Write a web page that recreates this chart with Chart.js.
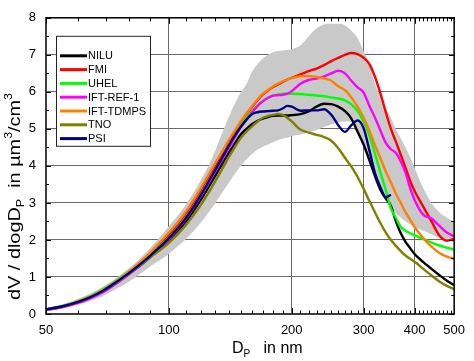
<!DOCTYPE html>
<html><head><meta charset="utf-8">
<script src="https://cdn.jsdelivr.net/npm/chart.js@4.4.1/dist/chart.umd.min.js"></script>
<style>html,body{margin:0;padding:0;background:#fff;}canvas{display:block;}</style>
</head><body>
<canvas id="c" width="474" height="361"></canvas>
<script>
// ---------- DATA ----------
const diameters = [50,55,60,65,70,75,80,85,90,95,100,105,110,115,120,125,130,135,140,145,150,155,160,165,170,175,180,185,190,195,200,210,220,230,240,250,260,270,280,290,300,310,320,330,340,350,360,370,380,390,400,420,440,460,480,500];

const NILU = [0.11,0.2,0.32,0.47,0.65,0.87,1.09,1.31,1.54,1.78,2.0,2.24,2.5,2.79,3.1,3.42,3.74,4.05,4.34,4.6,4.85,5.0,5.13,5.22,5.28,5.32,5.35,5.36,5.36,5.36,5.37,5.4,5.47,5.6,5.68,5.67,5.6,5.48,5.28,4.92,4.58,4.15,3.72,3.35,3.12,2.92,2.5,2.18,1.95,1.78,1.62,1.4,1.22,1.05,0.9,0.78];
const FMI = [0.12,0.21,0.33,0.49,0.68,0.9,1.13,1.38,1.63,1.9,2.15,2.42,2.71,3.03,3.37,3.71,4.03,4.34,4.64,4.92,5.18,5.4,5.6,5.78,5.93,6.04,6.13,6.2,6.27,6.33,6.38,6.47,6.56,6.63,6.72,6.83,6.92,7.0,7.05,7.02,6.92,6.75,6.4,5.95,5.45,5.0,4.65,4.3,3.95,3.6,3.32,2.9,2.5,2.12,1.98,2.03];
const UHEL = [0.12,0.22,0.35,0.51,0.71,0.93,1.16,1.38,1.6,1.83,2.06,2.32,2.6,2.9,3.22,3.55,3.88,4.2,4.51,4.8,5.08,5.3,5.48,5.63,5.75,5.84,5.9,5.93,5.95,5.95,5.95,5.94,5.92,5.9,5.88,5.85,5.82,5.77,5.66,5.48,5.2,4.82,4.32,3.82,3.35,2.85,2.6,2.35,2.25,2.18,2.13,2.02,1.93,1.85,1.79,1.74];
const IFT_REF_1 = [0.11,0.19,0.3,0.45,0.63,0.85,1.08,1.31,1.55,1.8,2.03,2.29,2.57,2.88,3.2,3.53,3.86,4.17,4.47,4.76,5.05,5.25,5.45,5.62,5.75,5.84,5.9,5.91,5.92,5.95,6.02,6.22,6.32,6.36,6.42,6.5,6.57,6.5,6.3,6.12,5.98,5.62,5.3,4.95,4.62,4.45,4.35,4.12,3.82,3.4,3.08,2.68,2.58,2.38,2.2,2.1];
const IFT_TDMPS = [0.12,0.21,0.34,0.5,0.69,0.91,1.15,1.4,1.66,1.93,2.2,2.47,2.76,3.08,3.42,3.76,4.08,4.38,4.68,4.95,5.2,5.42,5.62,5.8,5.95,6.05,6.15,6.22,6.28,6.33,6.37,6.42,6.43,6.4,6.36,6.3,6.15,6.05,5.85,5.6,5.3,4.95,4.55,4.2,3.85,3.55,3.25,3.0,2.75,2.55,2.35,2.05,1.82,1.65,1.55,1.49];
const TNO = [0.12,0.21,0.33,0.48,0.67,0.88,1.1,1.32,1.53,1.72,1.92,2.15,2.4,2.67,2.96,3.27,3.59,3.91,4.22,4.5,4.75,4.93,5.07,5.2,5.3,5.35,5.38,5.4,5.38,5.3,5.2,4.98,4.9,4.84,4.78,4.68,4.48,4.22,3.98,3.7,3.38,3.05,2.74,2.45,2.2,2.0,1.84,1.7,1.58,1.49,1.41,1.22,1.04,0.88,0.76,0.67];
const PSI = [0.12,0.21,0.33,0.48,0.67,0.89,1.11,1.34,1.57,1.81,2.05,2.31,2.59,2.9,3.23,3.57,3.9,4.22,4.53,4.81,5.05,5.25,5.4,5.45,5.47,5.48,5.49,5.5,5.55,5.62,5.6,5.49,5.5,5.5,5.53,5.38,5.1,4.92,5.1,5.23,5.02,4.42,3.8,3.42,3.15,3.22,null,null,null,null,null,null,null,null,null,null];
const bandUpper = [0.16,0.27,0.41,0.58,0.78,1.0,1.24,1.5,1.78,2.07,2.38,2.65,2.95,3.28,3.63,4.0,4.42,4.88,5.3,5.68,5.98,6.22,6.55,6.75,6.9,7.0,7.07,7.1,7.12,7.13,7.15,7.25,7.5,7.72,7.82,7.84,7.84,7.8,7.65,7.45,7.1,6.75,6.2,5.9,5.55,5.3,5.0,4.75,4.5,4.25,3.95,3.4,3.0,2.75,2.6,2.5];
const bandLower = [0.08,0.15,0.25,0.37,0.52,0.7,0.88,1.08,1.28,1.45,1.62,1.82,2.02,2.24,2.48,2.74,3.0,3.27,3.53,3.78,4.0,4.18,4.33,4.44,4.52,4.58,4.64,4.69,4.73,4.76,4.8,4.85,4.9,4.97,5.05,5.12,5.17,5.2,5.2,4.95,4.55,4.15,3.75,3.42,3.12,2.9,2.72,2.6,2.5,2.42,2.35,2.25,2.15,2.05,2.0,1.95];

const seriesNames = ['NILU','FMI','UHEL','IFT-REF-1','IFT-TDMPS','TNO','PSI'];
const seriesValues = [NILU, FMI, UHEL, IFT_REF_1, IFT_TDMPS, TNO, PSI];
const xTickLabels = [50,100,200,300,400,500];
const xGridValues = [100,200,300,400];
const xMinorTicks = [60,70,80,90,110,120,130,140,150,160,170,180,190,210,220,230,240,250,260,270,280,290,310,320,330,340,350,360,370,380,390,410,420,430,440,450,460,470,480,490];
const yTickLabels = [0,1,2,3,4,5,6,7,8];

// ---------- STYLE ----------
const seriesColors = ['#000000','#ff0000','#00ff00','#ff00ff','#ff8000','#808000','#000080'];
const FONT = "'Liberation Sans', Arial, Helvetica, sans-serif";
const gridColor = '#6a6a6a';

const toPts = arr => diameters.map((d,i)=>({x:d, y:arr[i]}));

const datasets = seriesNames.map((n,i)=>({
  label:n, data:toPts(seriesValues[i]), borderColor:seriesColors[i], backgroundColor:seriesColors[i],
  borderWidth:2.4, pointRadius:0, fill:false, cubicInterpolationMode:'monotone', order:7-i, spanGaps:false
}));
datasets.push({label:'_upper', data:toPts(bandUpper), borderWidth:0, borderColor:'rgba(0,0,0,0)', backgroundColor:'#c9c9c9', pointRadius:0, fill:'+1', cubicInterpolationMode:'monotone', order:20});
datasets.push({label:'_lower', data:toPts(bandLower), borderWidth:0, borderColor:'rgba(0,0,0,0)', pointRadius:0, fill:false, cubicInterpolationMode:'monotone', order:21});

const decor = {
  id:'decor',
  afterDatasetsDraw(chart){
    const {ctx, chartArea:a, scales:{x,y}} = chart;
    ctx.save();
    ctx.strokeStyle='#000'; ctx.lineWidth=1;
    ctx.beginPath();
    for(let v=0; v<=8.001; v+=0.5){
      const py = Math.round(y.getPixelForValue(v))+0.5;
      const len = (Math.abs(v-Math.round(v))<1e-6)?5:3;
      ctx.moveTo(a.left,py); ctx.lineTo(a.left+len,py);
      ctx.moveTo(a.right,py); ctx.lineTo(a.right-len,py);
    }
    const xt = (v,len)=>{
      const px = Math.round(x.getPixelForValue(v))+0.5;
      ctx.moveTo(px,a.bottom); ctx.lineTo(px,a.bottom-len);
      ctx.moveTo(px,a.top); ctx.lineTo(px,a.top+len);
    };
    xTickLabels.forEach(v=>xt(v,6));
    xMinorTicks.forEach(v=>xt(v,3.5));
    ctx.stroke();
    ctx.lineWidth=1.5;
    ctx.strokeRect(a.left,a.top,a.right-a.left,a.bottom-a.top);
    ctx.restore();
  },
  afterDraw(chart){
    const {ctx, chartArea:a} = chart;
    ctx.save();
    // legend
    const bx=a.left+10, by=a.top+18, bw=94, bh=110;
    ctx.fillStyle='#fff'; ctx.fillRect(bx,by,bw,bh);
    ctx.strokeStyle='#222'; ctx.lineWidth=1; ctx.strokeRect(bx+0.5,by+0.5,bw,bh);
    ctx.font='11px '+FONT; ctx.textBaseline='middle'; ctx.fillStyle='#000';
    chart.data.datasets.forEach((ds,i)=>{
      if(ds.label.startsWith('_')) return;
      const cy = by+20+i*13.8;
      ctx.strokeStyle=ds.borderColor; ctx.lineWidth=3;
      ctx.beginPath(); ctx.moveTo(bx+4,cy); ctx.lineTo(bx+31,cy); ctx.stroke();
      ctx.fillStyle='#000'; ctx.fillText(ds.label,bx+32,cy+0.5);
    });
    // x title
    ctx.textBaseline='alphabetic';
    let cx = 232;
    const seg = (t,size,dy)=>{ ctx.font=size+'px '+FONT; ctx.fillText(t,cx,353+dy); cx+=ctx.measureText(t).width; };
    seg('D',16,0); seg('P',10,4); seg('   in nm',16,0);
    // y title (rotated)
    const ys = [['dV / dlogD',16,0],['P',10,4],['  in µm',16,0],['3',10,-8],['/cm',16,0],['3',10,-8]];
    let tw=0; ys.forEach(s=>{ctx.font=s[1]+'px '+FONT; tw+=ctx.measureText(s[0]).width;});
    ctx.translate(20,300); ctx.rotate(-Math.PI/2); ctx.scale(207/tw,1);
    let lx=0; ys.forEach(s=>{ctx.font=s[1]+'px '+FONT; ctx.fillText(s[0],lx,s[2]); lx+=ctx.measureText(s[0]).width;});
    ctx.restore();
  }
};

new Chart(document.getElementById('c'), {
  type:'line',
  data:{datasets},
  options:{
    responsive:false, animation:false, devicePixelRatio:1,
    layout:{padding:{top:7,right:11,left:0,bottom:0}},
    plugins:{legend:{display:false}, tooltip:{enabled:false}},
    scales:{
      x:{type:'logarithmic', min:50, max:500,
        afterBuildTicks:s=>{ s.ticks = xTickLabels.map(v=>({value:v})); },
        afterFit:s=>{ s.height=47; },
        border:{display:false},
        grid:{drawTicks:false, lineWidth:1, color:c=> (c.tick && xGridValues.includes(c.tick.value)) ? gridColor : 'rgba(0,0,0,0)'},
        ticks:{autoSkip:false, maxRotation:0, padding:9, color:'#000', font:{family:FONT,size:13}, callback:v=>String(v)}
      },
      y:{type:'linear', min:0, max:8,
        afterBuildTicks:s=>{ s.ticks = yTickLabels.map(v=>({value:v})); },
        afterFit:s=>{ s.width=46; },
        border:{display:false},
        grid:{drawTicks:false, lineWidth:1, color:c=> (c.tick && c.tick.value>0 && c.tick.value<8) ? gridColor : 'rgba(0,0,0,0)'},
        ticks:{padding:10, color:'#000', font:{family:FONT,size:13}, callback:v=>String(v)}
      }
    }
  },
  plugins:[decor]
});
</script>
</body></html>
